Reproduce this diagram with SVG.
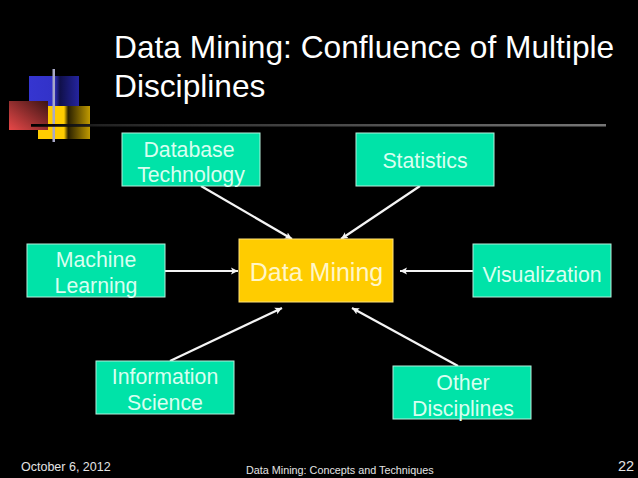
<svg xmlns="http://www.w3.org/2000/svg" width="638" height="478" viewBox="0 0 638 478">
<style>
text{font-family:"Liberation Sans",Arial,sans-serif}
.t{fill:#fff;font-size:31.700px}
.box{fill:#00e3a8;stroke:#b5f0dc;stroke-width:1}
.lbl{fill:#d8fff0;font-size:21.300px;text-anchor:middle}
.conn{stroke:#f4f4f4;stroke-width:2.2;fill:none;marker-end:url(#a)}
.foot{fill:#e4e4e4;font-size:12.500px}
</style>
<defs>
<marker id="a" markerUnits="userSpaceOnUse" markerWidth="8" markerHeight="8" refX="7" refY="4" orient="auto"><path d="M0 0.5L7 4L0 7.500L1.500 4Z" fill="#f4f4f4"/></marker>
<linearGradient id="bl" x1="0" x2="1" y1="0" y2="0"><stop offset="0" stop-color="#3535d0"/><stop offset="0.5" stop-color="#3232c8"/><stop offset="0.62" stop-color="#10104a"/><stop offset="1" stop-color="#2424a0"/></linearGradient>
<linearGradient id="ye" x1="0" x2="1" y1="0" y2="0"><stop offset="0" stop-color="#ffcc00"/><stop offset="0.5" stop-color="#ffcc00"/><stop offset="0.58" stop-color="#2a2000"/><stop offset="1" stop-color="#c09a00"/></linearGradient>
<linearGradient id="re" x1="0" x2="1" y1="1" y2="0"><stop offset="0" stop-color="#e84848"/><stop offset="1" stop-color="#3c1414"/></linearGradient>
<linearGradient id="rule" x1="0" x2="1" y1="0" y2="0"><stop offset="0" stop-color="#000"/><stop offset="0.12" stop-color="#222"/><stop offset="1" stop-color="#777"/></linearGradient>
</defs>
<rect width="638" height="478" fill="#000"/>
<g id="logo">
<rect x="29" y="76" width="50" height="50" fill="url(#bl)"/>
<rect x="38" y="106" width="52" height="33" fill="url(#ye)"/>
<rect x="9" y="101" width="39" height="29" fill="url(#re)"/>
<rect x="52.500" y="69" width="2.500" height="73" fill="#a8a8c8"/>
<rect x="31" y="124" width="85" height="2.500" fill="#000"/>
</g>
<rect id="rule-line" x="31" y="124" width="575" height="2.500" fill="url(#rule)"/>
<g id="title">
<text class="t" x="114" y="58">Data Mining: Confluence of Multiple</text>
<text class="t" x="114" y="97">Disciplines</text>
</g>
<g id="connectors">
<line class="conn" x1="201" y1="186" x2="292" y2="239"/>
<line class="conn" x1="420" y1="186" x2="341" y2="239"/>
<line class="conn" x1="165" y1="271" x2="238" y2="271"/>
<line class="conn" x1="473" y1="271" x2="400" y2="271"/>
<line class="conn" x1="170" y1="361" x2="282" y2="308"/>
<line class="conn" x1="458" y1="366" x2="352" y2="308"/>
</g>
<g id="node-database"><rect class="box" x="122" y="133" width="138" height="53"/><text class="lbl" x="189" y="156.500">Database</text><text class="lbl" x="191" y="182">Technology</text></g>
<g id="node-statistics"><rect class="box" x="356" y="133" width="138" height="53"/><text class="lbl" x="425" y="168">Statistics</text></g>
<g id="node-machine"><rect class="box" x="27" y="244" width="138" height="53"/><text class="lbl" x="96" y="267">Machine</text><text class="lbl" x="96" y="293">Learning</text></g>
<g id="node-datamining"><rect x="239" y="239" width="154" height="63" fill="#ffcc00" stroke="#ffe27a" stroke-width="1"/><text x="316.500" y="281" fill="#fff6c8" font-size="25" text-anchor="middle">Data Mining</text></g>
<g id="node-visualization"><rect class="box" x="473" y="244" width="138" height="53"/><text class="lbl" x="542" y="282">Visualization</text></g>
<g id="node-information"><rect class="box" x="96" y="361" width="138" height="53"/><text class="lbl" x="165" y="384">Information</text><text class="lbl" x="165" y="410">Science</text></g>
<g id="node-other"><rect class="box" x="393" y="366" width="138" height="53"/><text class="lbl" x="463" y="390">Other</text><text class="lbl" x="463" y="416">Disciplines</text></g>
<g id="footer">
<text class="foot" x="21" y="471">October 6, 2012</text>
<text x="246" y="474" fill="#e4e4e4" font-size="10.800">Data Mining: Concepts and Techniques</text>
<text x="618" y="471" fill="#e4e4e4" font-size="14.500">22</text>
</g>
</svg>
